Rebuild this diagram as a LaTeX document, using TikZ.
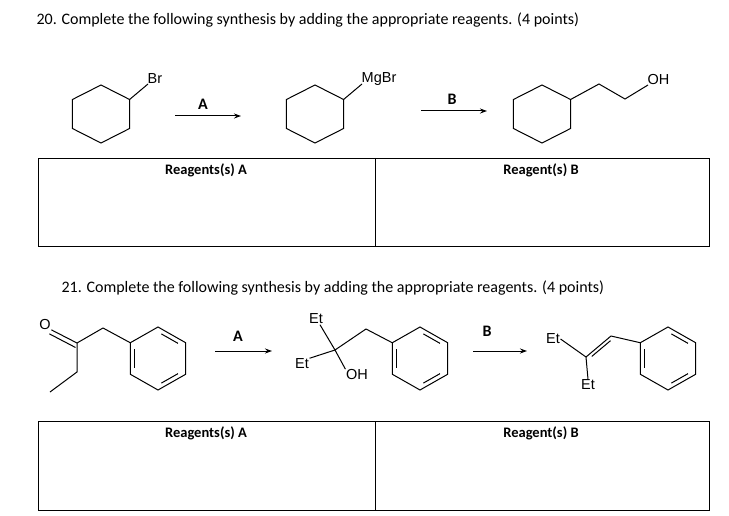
\documentclass[tikz,border=0pt]{standalone}
\usepackage{fontspec}
\setmainfont{Carlito}
\newfontfamily\chemf{Liberation Sans}
\usetikzlibrary{calc,arrows.meta}
\newcommand{\hexring}[5]{%
  \foreach \i/\a in {1/90,2/30,3/-30,4/-90,5/-150,6/150}{
    \coordinate (#1-\i) at ({#2+#4*cos(\a)},{#3-#5*sin(\a)});}
  \draw[bond] (#1-1)--(#1-2)--(#1-3)--(#1-4)--(#1-5)--(#1-6)--cycle;}
\newcommand{\benz}[5]{\hexring{#1}{#2}{#3}{#4}{#5}
  \coordinate (#1-c) at (#2,#3);
  \foreach \p/\q in {1/2,3/4,5/6}{
    \draw[bond] ($(#1-\p)!0.18!(#1-c)!0.12!(#1-\q)$) -- ($(#1-\q)!0.18!(#1-c)!0.12!(#1-\p)$);}}
\begin{document}
\begin{tikzpicture}[x=1pt,y=-1pt,
  bond/.style={line width=1pt},
  rxn/.style={line width=1pt,-{Stealth[length=7pt,width=5pt]}},
  atom/.style={font=\chemf\fontsize{14.5}{15}\selectfont,inner sep=0.5pt},
  lbl/.style={font=\fontsize{16}{18}\selectfont\bfseries},
  hdr/.style={font=\fontsize{14.5}{16}\selectfont\bfseries},
  qtext/.style={font=\fontsize{16}{18}\selectfont,anchor=west},
  box/.style={line width=0.8pt}]
\useasboundingbox (0,0) rectangle (729,516);
\fill[white] (0,0) rectangle (729,516);
% Question 20
\node[qtext] (q20) at (33,20) {20. Complete the following synthesis by adding the appropriate reagents. (4 points)};
\hexring{r1}{101}{114}{33}{29}
\coordinate (b1) at (148,84);
\draw[bond] (r1-2)--(b1);
\node[atom,anchor=west] (br) at (147,79) {Br};
\coordinate (a1s) at (175,116); \coordinate (a1e) at (241,116);
\draw[rxn] (a1s)--(a1e);
\node[lbl] (A1) at (203,104) {A};
\hexring{r2}{315}{114}{33}{29}
\coordinate (m1) at (362,84);
\draw[bond] (r2-2)--(m1);
\node[atom,anchor=west] (mgbr) at (361,79) {MgBr};
\coordinate (a2s) at (421,111); \coordinate (a2e) at (487,111);
\draw[rxn] (a2s)--(a2e);
\node[lbl] (B1) at (452,99) {B};
\hexring{r3}{542}{114}{33}{29}
\coordinate (c1) at (599,84); \coordinate (c2) at (625,99); \coordinate (c3) at (648,85);
\draw[bond] (r3-2)--(c1)--(c2)--(c3);
\node[atom,anchor=west] (oh1) at (647,80) {OH};
\draw[box] (38,158) rectangle (709,246);
\draw[box] (375,158)--(375,246);
\node[hdr] (ra1) at (206,170) {Reagents(s) A};
\node[hdr] (rb1) at (541,170) {Reagent(s) B};
% Question 21
\node[qtext] (q21) at (58,288) {21. Complete the following synthesis by adding the appropriate reagents. (4 points)};
\node[atom] (O) at (45,325) {O};
\coordinate (k1) at (77,343); \coordinate (k2) at (103,328);
\coordinate (k3) at (77,372); \coordinate (k4) at (50,392);
\draw[bond] ($(O.south east)+(0,-1)$)--(k1);
\draw[bond] ($(O.south east)+(-2,3)$)--($(k1)+(-1.5,4.5)$);
\draw[bond] (k1)--(k2); \draw[bond] (k1)--(k3)--(k4);
\benz{p1}{158}{358.5}{32}{31.5}
\draw[bond] (k2)--(p1-6);
\coordinate (a3s) at (215,351); \coordinate (a3e) at (272,351);
\draw[rxn] (a3s)--(a3e);
\node[lbl] (A2) at (238,336) {A};
\node[atom] (et1) at (316,319) {Et};
\node[atom] (et2) at (302,364) {Et};
\node[atom] (oh2) at (357,375) {OH};
\coordinate (cc) at (335,350); \coordinate (ch) at (366,329);
\draw[bond] ($(et1.south)+(4,0)$)--(cc);
\draw[bond] (cc)--(oh2.north west);
\draw[bond] (et2.north east)--(cc);
\draw[bond] (cc)--(ch);
\benz{p2}{420}{358.5}{32}{31.5}
\draw[bond] (ch)--(p2-6);
\coordinate (a4s) at (473,351); \coordinate (a4e) at (527,351);
\draw[rxn] (a4s)--(a4e);
\node[lbl] (B2) at (487,331) {B};
\node[atom] (et3) at (553,339) {Et};
\node[atom] (et4) at (588,385) {Et};
\coordinate (d1) at (586,357); \coordinate (d2) at (611,336);
\draw[bond] (et3.east)--(d1);
\draw[bond] (d1)--(et4.north);
\draw[bond] (d1)--(d2);
\draw[bond] ($(d1)!0.15!(d2)+(2,2.6)$)--($(d2)!0.1!(d1)+(2,2.6)$);
\benz{p3}{668}{358.5}{32}{31.5}
\draw[bond] (d2)--(p3-6);
\draw[box] (38,421) rectangle (709,510);
\draw[box] (375,421)--(375,510);
\node[hdr] (ra2) at (206,433) {Reagents(s) A};
\node[hdr] (rb2) at (541,433) {Reagent(s) B};
\end{tikzpicture}
\end{document}
